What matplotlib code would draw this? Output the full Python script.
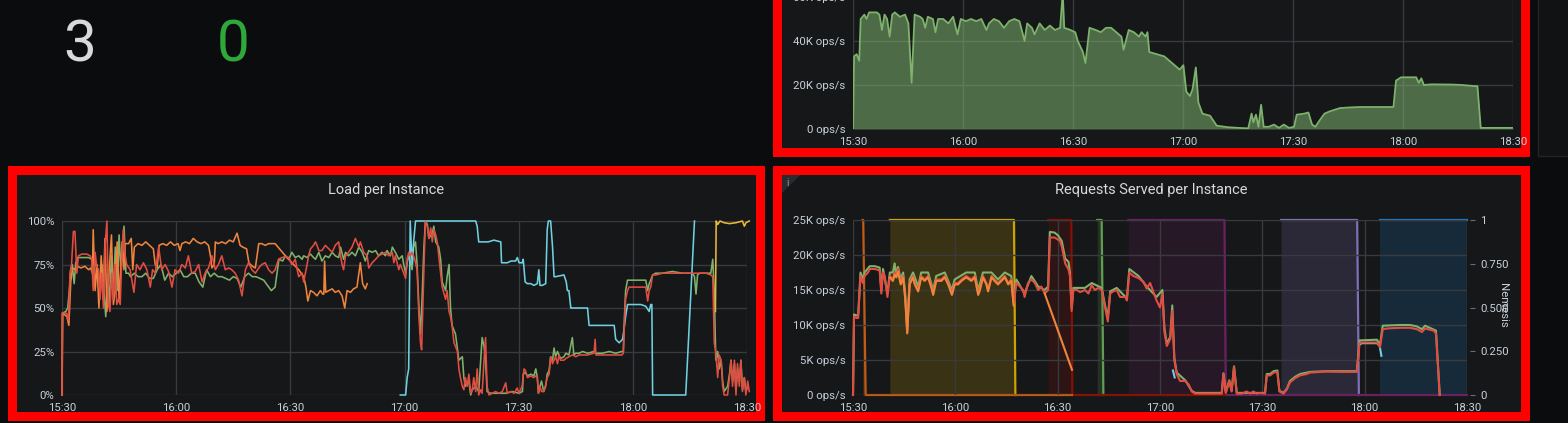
import numpy as np
import matplotlib.pyplot as plt
from matplotlib.patches import Rectangle, Polygon

plt.rcParams['font.family'] = ['Roboto', 'DejaVu Sans']

nan = float('nan')

# ---------------------------------------------------------------------
# data (x = minutes after 15:30)
# ---------------------------------------------------------------------
tick_minutes = [0, 30, 60, 90, 120, 150, 180]
tick_labels = ['15:30', '16:00', '16:30', '17:00', '17:30', '18:00', '18:30']

stat_values = ['3', '0']

# top panel: total ops/s (K)
total_ops = [
    (0, 0), (0.3, 33), (1.0, 34), (1.7, 31), (2.1, 50), (3.1, 52), (3.7, 50), (4.4, 53), (6.5, 53),
    (7.2, 52), (7.9, 45), (8.6, 52), (9.3, 50), (10.0, 42), (10.7, 52), (11.4, 53), (12.8, 51),
    (14.2, 52), (15.1, 48), (16.0, 21), (16.8, 52), (18.3, 51), (19.0, 50), (19.7, 46), (20.4, 51),
    (21.8, 50), (22.5, 44), (23.2, 50), (24.6, 50), (26.0, 48), (27.3, 51), (28.5, 43), (29.4, 50),
    (30.8, 49), (32.2, 50), (33.6, 49), (35.0, 50), (36.4, 45), (37.1, 48), (38.4, 50), (39.8, 49),
    (41.2, 46), (42.6, 49), (44.0, 50), (45.4, 49), (46.8, 40), (47.5, 48), (48.8, 46), (49.5, 43),
    (50.9, 48), (52.3, 45), (53.7, 47), (55.1, 45), (56.5, 46), (57.2, 62), (57.6, 46), (59.3, 45),
    (60.6, 44), (61.3, 40), (62.7, 35), (63.4, 30), (64.5, 46), (66.2, 45), (67.6, 44), (69.0, 46),
    (70.4, 46), (71.8, 44), (73.2, 42), (73.8, 36), (75.2, 45), (76.6, 44), (78.0, 42), (78.7, 44),
    (79.8, 42), (80.3, 44), (80.8, 35), (82.8, 34), (84.9, 33), (86.3, 31), (87.7, 29), (89.1, 27),
    (90.1, 29), (90.9, 17), (91.9, 15), (92.6, 18), (93.5, 28), (94.2, 12), (95.3, 7), (97.4, 6),
    (99.2, 1.5), (102.3, 0.8), (105.1, 0.5), (107.8, 0.3), (108.7, 7), (109.2, 3), (109.9, 6.5),
    (110.6, 1), (111.3, 11), (112.0, 1), (113.4, 1), (114.8, 2), (116.2, 0.5), (117.5, 2),
    (118.9, 0.5), (120.3, 1), (121.0, 6.5), (123.1, 7), (124.2, 7.5), (125.2, 2), (126.1, 1),
    (127.3, 4), (128.6, 7), (130.0, 8), (132.8, 9.5), (135.6, 9.8), (138.4, 10), (143.9, 10),
    (147.4, 10), (148.1, 22), (149.5, 23.5), (153.6, 23.5), (154.3, 21), (155.0, 23), (155.7, 20),
    (157.8, 20.3), (163.3, 20.2), (166.1, 20), (169.5, 19.5), (170.3, 19.5), (171.2, 0.5), (180, 0.5),
]

# load per instance (%)
load_green = [
    (0, 0), (0.1, 47), (1.0, 48), (1.5, 50), (2.0, 62), (2.3, 72), (2.7, 75), (3.2, 64), (3.6, 76),
    (4.2, 79), (5.5, 79), (7.0, 79), (7.8, 78), (8.3, 62), (8.7, 78), (9.4, 72), (10.0, 62), (10.5, 75),
    (11.0, 60), (11.5, 45), (12.0, 70), (12.4, 52), (13.0, 80), (13.5, 58), (14.0, 85), (14.5, 60),
    (15.0, 92), (15.5, 70), (16.3, 97), (16.8, 70), (17.5, 70), (18.0, 68), (19.0, 70), (20.0, 68),
    (21.0, 68), (22.0, 70), (23.0, 67), (24.0, 67), (25.0, 72), (26.0, 75), (27.0, 66), (28.0, 70),
    (29.0, 68), (30.0, 70), (31.0, 72), (32.0, 68), (33.0, 68), (34.0, 70), (35.0, 70), (36.0, 65),
    (37.0, 62), (38.0, 72), (39.0, 68), (40.0, 70), (41.0, 68), (42.0, 68), (43.0, 67), (44.0, 66),
    (45.0, 68), (46.0, 67), (47.0, 62), (48.0, 68), (49.0, 70), (50.0, 68), (51.0, 68), (52.0, 67),
    (53.0, 66), (54.0, 63), (55.0, 60), (56.0, 62), (57.0, 78), (58.0, 77), (58.7, 80), (59.6, 78),
    (60.4, 82), (61.3, 79), (62.2, 80), (63.1, 78), (63.5, 80), (64.4, 79), (64.8, 80), (65.3, 81),
    (66.1, 79), (66.6, 78), (67.5, 82), (68.3, 77), (69.2, 80), (70.1, 79), (71.0, 82), (71.8, 80),
    (72.7, 79), (73.2, 85), (74.0, 78), (74.5, 82), (75.3, 80), (76.2, 82), (77.1, 80), (78.0, 85),
    (78.9, 82), (79.7, 77), (80.6, 83), (81.5, 82), (82.4, 83), (83.2, 80), (84.1, 82), (85.0, 80),
    (85.4, 83), (86.3, 80), (86.8, 85), (87.6, 82), (88.5, 78), (89.4, 80), (89.8, 75), (90.3, 70),
    (90.7, 76), (91.1, 80), (92.0, 72), (92.4, 85), (92.9, 88), (93.3, 75), (93.8, 50), (94.2, 35),
    (94.6, 55), (95.1, 85), (95.5, 100), (96.0, 98), (96.4, 90), (97.3, 93), (97.7, 97), (98.2, 88),
    (99.0, 85), (99.5, 78), (99.9, 65), (100.8, 60), (101.2, 68), (101.7, 75), (102.1, 50), (102.5, 40),
    (103.4, 35), (104.3, 20), (105.2, 22), (105.6, 10), (106.0, 5), (106.9, 8), (107.4, 0), (107.8, 3),
    (108.7, 5), (109.5, 2), (110.4, 33), (110.9, 28), (111.3, 20), (111.7, 2), (112.6, 1), (114.8, 1),
    (116.6, 1), (118.3, 2), (120.1, 1), (121.0, 2), (121.2, 12), (121.7, 13), (122.3, 11), (123.2, 12),
    (124.0, 11), (124.5, 15), (124.9, 10), (125.2, 1), (125.6, 5), (126.0, 8), (126.6, 2), (127.1, 5),
    (127.5, 12), (128.0, 14), (128.4, 22), (128.9, 20), (129.3, 27), (129.7, 22), (130.2, 25),
    (130.6, 23), (131.0, 21), (131.9, 22), (132.4, 24), (133.2, 23), (134.1, 33), (134.5, 23),
    (135.0, 24), (135.9, 24), (136.8, 25), (138.1, 24), (139.8, 25), (140.3, 24), (142.0, 24),
    (143.8, 25), (145.5, 24), (147.1, 25), (147.5, 25), (147.8, 45), (148.1, 60), (148.6, 66),
    (150.0, 66), (152.1, 66), (153.4, 66), (153.9, 60), (154.3, 64), (154.7, 66), (155.2, 69),
    (156.0, 70), (157.8, 70), (160.4, 71), (163.0, 70), (165.7, 70), (166.2, 68), (166.6, 58),
    (167.0, 69), (167.5, 70), (169.2, 70), (170.5, 70), (171.0, 78), (171.4, 60), (171.8, 20),
    (172.3, 25), (172.7, 15), (173.2, 20), (173.6, 8), (174.0, 2), (174.9, 5), (175.4, 12), (175.8, 20),
    (176.2, 8), (176.7, 18), (177.1, 2), (177.5, 15), (178.0, 8), (178.4, 20), (178.8, 3), (179.3, 10),
    (179.7, 2), (180.2, 5),
]

load_orange = [
    (0, 0), (0.2, 47), (1.3, 45), (1.8, 40), (2.3, 65), (2.8, 73), (3.5, 72), (4.0, 74), (5.0, 73),
    (6.0, 74), (7.0, 72), (7.5, 73), (8.0, 70), (8.2, 95), (8.7, 60), (9.2, 75), (9.7, 50), (10.3, 80),
    (10.8, 55), (11.3, 90), (11.8, 48), (12.4, 72), (13.0, 92), (13.5, 52), (14.0, 60), (14.5, 88),
    (15.0, 55), (15.8, 88), (16.3, 72), (16.5, 87), (17.0, 87), (17.5, 87), (18.2, 90), (18.6, 72),
    (19.0, 85), (20.0, 87), (21.0, 86), (22.0, 88), (23.0, 86), (24.0, 84), (24.5, 75), (25.0, 73),
    (25.5, 86), (26.5, 87), (27.5, 86), (28.5, 88), (29.5, 86), (30.5, 87), (31.0, 83), (31.5, 87),
    (32.5, 88), (33.5, 87), (34.5, 90), (35.5, 88), (36.5, 87), (37.5, 88), (38.5, 86), (39.0, 80),
    (39.4, 73), (40.0, 75), (40.3, 88), (41.0, 87), (42.0, 88), (43.0, 87), (44.0, 89), (45.0, 88),
    (46.0, 93), (46.8, 86), (47.5, 85), (48.5, 84), (49.1, 76), (50.0, 74), (50.8, 73), (51.7, 87),
    (52.5, 87), (53.4, 86), (54.3, 87), (55.2, 87), (56.0, 87), (58.7, 80), (60.4, 76), (62.2, 72),
    (63.5, 68), (64.1, 62), (64.6, 54), (65.3, 60), (66.1, 59), (67.0, 57), (67.9, 60), (68.5, 58),
    (68.8, 58), (69.0, 77), (69.3, 59), (70.1, 60), (71.0, 61), (71.8, 59), (72.7, 60), (73.6, 57),
    (74.3, 50), (74.9, 60), (75.8, 59), (76.6, 61), (77.5, 62), (78.4, 76), (79.0, 64), (79.7, 61),
    (80.2, 64),
]

load_red = [
    (0, 0), (0.05, 47), (1.2, 47), (1.7, 43), (2.1, 70), (2.5, 75), (3.0, 94), (3.4, 94), (3.9, 70),
    (4.3, 80), (5.2, 81), (6.5, 81), (7.4, 80), (7.8, 78), (8.2, 60), (8.7, 82), (9.1, 74), (9.6, 72),
    (10.0, 55), (10.4, 70), (10.9, 50), (11.3, 85), (11.8, 100), (12.2, 52), (12.6, 48), (13.1, 70),
    (13.5, 55), (13.9, 75), (14.4, 52), (14.8, 55), (15.3, 52), (15.7, 78), (16.1, 95), (16.6, 80),
    (17.0, 75), (17.9, 72), (18.9, 59), (19.6, 75), (20.5, 72), (21.4, 76), (22.3, 72), (23.2, 62),
    (23.8, 72), (24.5, 70), (25.4, 85), (26.2, 72), (27.1, 75), (28.0, 71), (28.9, 62), (29.7, 72),
    (30.6, 70), (31.5, 75), (32.4, 73), (33.2, 80), (34.1, 70), (35.0, 71), (35.9, 75), (36.8, 65),
    (37.6, 70), (38.5, 73), (39.4, 80), (40.3, 72), (41.1, 75), (42.0, 80), (42.9, 72), (43.8, 73),
    (44.6, 72), (45.5, 70), (46.4, 66), (47.3, 57), (48.2, 72), (49.0, 76), (49.9, 72), (50.8, 70),
    (51.7, 73), (52.5, 75), (53.4, 76), (54.3, 72), (55.2, 70), (56.0, 72), (56.9, 78), (57.8, 79),
    (58.7, 79.5), (59.6, 79), (60.4, 75), (61.3, 78), (61.8, 72), (62.2, 68), (63.1, 70), (63.5, 65),
    (64.4, 75), (64.8, 80), (65.3, 84), (66.1, 86), (66.6, 88), (67.0, 86), (67.5, 83), (68.3, 83),
    (69.2, 86), (70.1, 84), (71.0, 82), (71.8, 86), (72.7, 88), (73.2, 80), (73.6, 75), (74.0, 72),
    (74.5, 80), (75.3, 82), (76.2, 85), (77.1, 90), (78.0, 85), (78.4, 88), (79.3, 82), (80.2, 80),
    (80.6, 73), (81.5, 76), (82.4, 78), (83.2, 80), (84.1, 81), (85.0, 82), (85.9, 80), (86.8, 82),
    (87.2, 76), (87.6, 80), (88.5, 72), (88.9, 75), (89.8, 70), (90.3, 67), (90.7, 78), (91.1, 82),
    (91.5, 80), (92.0, 82), (92.7, 78), (93.3, 72), (93.8, 45), (94.2, 30), (94.5, 26), (94.8, 50),
    (95.2, 80), (95.5, 100), (96.0, 97), (96.4, 90), (96.9, 96), (97.3, 88), (97.7, 95), (98.2, 92),
    (98.6, 88), (99.0, 80), (99.5, 70), (99.9, 62), (100.4, 58), (100.8, 55), (101.2, 60), (101.7, 48),
    (102.1, 45), (102.5, 40), (103.0, 30), (103.4, 28), (103.9, 25), (104.3, 15), (104.7, 10),
    (105.2, 5), (105.6, 3), (106.0, 10), (106.5, 5), (106.9, 12), (107.4, 1), (107.8, 3), (108.2, 10),
    (108.7, 2), (109.1, 15), (109.5, 0), (110.0, 3), (110.4, 1), (110.9, 20), (111.3, 33), (111.7, 5),
    (112.2, 0), (113.1, 1), (113.9, 2), (114.8, 1), (115.7, 2), (116.6, 7), (117.0, 1), (117.9, 2),
    (118.8, 1), (119.6, 4), (120.1, 1), (120.9, 5), (121.4, 15), (121.8, 14), (122.3, 10), (123.2, 11),
    (124.0, 10), (124.5, 11), (124.9, 10), (125.2, 1), (125.6, 5), (126.0, 2), (126.6, 2), (127.1, 6),
    (127.5, 10), (128.0, 12), (128.4, 22), (128.9, 18), (129.3, 20), (129.7, 22), (130.2, 18),
    (130.6, 23), (131.0, 20), (131.9, 20), (132.4, 21), (133.2, 22), (134.1, 23), (135.0, 22),
    (135.9, 23), (136.8, 23), (138.1, 23), (139.8, 24), (140.1, 32), (140.3, 23), (142.0, 23),
    (143.8, 23), (145.5, 23), (146.4, 23), (147.1, 23), (147.5, 24), (147.8, 42), (148.1, 55),
    (148.6, 60), (149.0, 62), (150.8, 62), (152.1, 62), (153.4, 62), (153.9, 54), (154.3, 60),
    (154.7, 62), (155.2, 69), (156.0, 69), (157.8, 70), (160.4, 70), (163.0, 70), (165.7, 70),
    (167.5, 70), (169.2, 70), (170.5, 69), (171.0, 68), (171.4, 30), (171.8, 25), (172.3, 10),
    (172.7, 23), (173.2, 20), (173.6, 5), (174.0, 0), (174.9, 0), (175.4, 10), (175.8, 20), (176.2, 5),
    (176.7, 20), (177.1, 0), (177.5, 18), (178.0, 5), (178.4, 20), (178.8, 2), (179.3, 10), (179.7, 0),
    (180.2, 8), (180.6, 2),
]

load_cyan = [
    (88.9, 0), (90.3, 0), (90.7, 10), (91.1, 15), (91.5, 100), (92.0, 75), (92.4, 88), (92.9, 100),
    (108.7, 100), (109.1, 97), (109.5, 88), (112.0, 88), (113.5, 89), (115.3, 88), (115.5, 76),
    (117.0, 76), (118.0, 77), (119.2, 77), (119.65, 79), (120.1, 76), (120.96, 76), (121.2, 78),
    (121.7, 65), (122.3, 64), (123.2, 64), (124.0, 63), (124.9, 64), (125.3, 72), (125.6, 63),
    (126.2, 63), (127.1, 64), (127.5, 95), (127.8, 100), (128.4, 100), (128.9, 85), (129.3, 68),
    (129.7, 68), (131.9, 69), (132.5, 65), (132.8, 60), (133.2, 60), (133.7, 50), (133.9, 50),
    (138.1, 50), (138.5, 40), (145.1, 40), (145.5, 32), (146.4, 30), (147.3, 32), (147.7, 38),
    (148.1, 45), (148.6, 52), (149.5, 52), (150.8, 52), (152.1, 52), (153.4, 51), (154.3, 48),
    (154.7, 52), (155.0, 52), (155.2, 0), (163.9, 0), (166.2, 100),
]

load_yellow = [
    (171.7, 48), (171.9, 100), (172.3, 98), (172.9, 100), (174.0, 99), (175.4, 98.5), (177.1, 99),
    (178.8, 100), (179.3, 97), (179.7, 99), (180.6, 100),
]

# requests served per instance (K ops/s)
req_red = [
    (0, 0), (0.3, 11.2), (1.0, 11), (1.5, 11), (2.2, 17), (2.9, 16), (3.4, 17), (4.4, 17.5), (4.9, 18),
    (6.4, 18), (7.8, 17.8), (8.3, 14.5), (8.8, 17.5), (9.3, 17), (10.1, 14), (10.8, 17), (11.7, 16.5),
    (12.2, 17.5), (12.7, 17), (13.2, 18), (14.0, 16), (14.7, 17), (15.3, 14), (15.9, 9), (16.6, 16),
    (17.6, 17), (18.1, 16), (19.1, 15), (20.0, 17), (21.0, 16.5), (22.0, 17), (23.0, 15.5),
    (23.5, 14.5), (24.4, 16.5), (25.9, 16.5), (26.9, 17), (27.9, 16), (29.0, 14.5), (29.8, 16),
    (30.8, 16), (31.8, 16.5), (33.2, 17), (34.7, 16.5), (35.7, 17), (36.7, 14.5), (37.1, 15),
    (38.1, 17), (39.1, 16), (39.6, 15), (40.6, 17), (41.5, 16.5), (42.5, 16), (43.5, 16.5), (44.5, 17),
    (45.5, 16), (46.4, 16.5), (47.1, 13), (47.9, 16), (48.9, 15.5), (49.9, 15), (50.3, 14), (51.3, 16),
    (52.3, 16.5), (53.3, 16), (54.3, 15), (55.2, 15.5), (56.2, 14.5), (57.2, 15), (57.7, 22.5),
    (59.1, 22.5), (60.1, 22.2), (60.7, 22), (61.2, 21.2), (62.2, 18.8), (63.2, 17.9), (63.6, 17),
    (64.1, 12), (64.6, 15), (65.6, 15), (66.6, 14.7), (68.0, 15), (69.0, 14.5), (70.0, 15.7),
    (70.9, 15), (71.9, 15.3), (72.9, 15), (73.9, 12.5), (74.7, 10.5), (75.4, 14.5), (76.3, 14.8),
    (77.3, 15), (78.3, 14), (79.8, 14), (80.3, 13.5), (81.0, 17.5), (82.2, 17), (83.7, 16.7),
    (85.1, 16.2), (86.1, 15.2), (87.1, 16), (88.1, 14.7), (89.0, 13.5), (90.0, 12.5), (90.7, 14.5),
    (91.3, 9), (92.0, 7), (93.0, 8), (93.6, 12), (94.2, 5), (94.9, 3), (95.9, 2), (97.4, 2),
    (98.4, 1.5), (99.3, 0.5), (100.3, 0.2), (108.1, 0.2), (108.6, 3), (109.3, 0.3), (110.3, 2),
    (111.0, 0.5), (111.7, 4), (112.5, 0.2), (114.0, 0.2), (115.4, 0.5), (116.4, 0.2), (117.4, 0.5),
    (118.3, 0.2), (119.3, 0.3), (120.8, 0.2), (121.3, 2.8), (122.3, 2.8), (123.3, 3.2), (124.4, 3.3),
    (125.0, 0.5), (126.2, 0.2), (127.2, 0.8), (128.1, 1.8), (129.6, 2.4), (131.1, 2.8), (133.0, 3.0),
    (134.0, 3.2), (138.9, 3.35), (143.8, 3.3), (147.7, 3.3), (148.5, 7.4), (149.2, 7.5), (153.6, 7.5),
    (154.0, 7.3), (154.5, 6.8), (155.3, 9.4), (156.5, 9.5), (160.4, 9.6), (163.3, 9.6), (165.3, 9.4),
    (166.8, 9.0), (167.7, 9.5), (170.2, 9.2), (170.9, 8.8), (172.0, 0),
]

req_green = [
    (0, 0), (0.3, 11.5), (1.5, 11.3), (2.2, 17.5), (2.9, 16.5), (3.4, 17.5), (4.9, 18.4), (6.4, 18.4),
    (7.8, 18.2), (8.3, 15), (8.8, 18), (10.1, 14.5), (10.8, 17.5), (11.7, 17.5), (12.2, 18.8),
    (12.7, 17.2), (13.2, 18.3), (14.0, 16.5), (14.7, 17.5), (15.3, 14.5), (15.9, 9.5), (16.6, 16.5),
    (17.6, 17.5), (19.1, 15.5), (20.0, 17.5), (22.0, 17.5), (23.5, 15), (24.4, 17), (26.9, 17.5),
    (29.0, 15), (29.8, 16.5), (33.2, 17.5), (35.7, 17.5), (36.7, 15), (38.1, 17.5), (40.6, 17.5),
    (42.5, 16.5), (44.5, 17.5), (46.4, 17), (47.1, 13.5), (47.9, 16.5), (50.3, 14.5), (52.3, 17),
    (54.3, 15.5), (56.2, 15), (57.2, 15.5), (57.7, 23.3), (59.1, 23.2), (60.1, 22.8), (61.2, 22),
    (62.2, 19.5), (63.2, 19), (63.6, 17.5), (64.1, 12.5), (64.6, 15.3), (68.0, 15.3), (70.0, 16),
    (72.9, 15.3), (73.9, 12.8), (74.7, 11), (75.4, 14.8), (77.3, 15.3), (80.3, 13.8), (81.0, 18),
    (83.7, 17), (86.1, 15.5), (89.0, 14), (90.7, 15), (91.3, 9.5), (92.0, 7.3), (93.0, 8.3),
    (93.6, 12.8), (94.2, 5.3), (94.9, 3.2), (97.4, 2.1), (99.3, 0.6), (100.3, 0.3), (108.1, 0.3),
    (108.6, 3.1), (109.3, 0.4), (110.3, 2.1), (111.0, 0.6), (111.7, 4.1), (112.5, 0.3), (114.0, 0.3),
    (116.4, 0.3), (118.3, 0.3), (120.8, 0.3), (121.3, 3.0), (122.3, 3.0), (123.3, 3.4), (124.4, 3.5),
    (125.0, 0.6), (126.2, 0.3), (127.2, 0.9), (128.1, 2.0), (129.6, 2.6), (131.1, 3.0), (134.0, 3.3),
    (138.9, 3.4), (147.7, 3.4), (148.5, 7.8), (153.6, 7.9), (154.5, 7.2), (155.3, 9.9), (160.4, 10.0),
    (163.3, 10.0), (165.3, 9.8), (166.8, 9.4), (167.7, 9.9), (170.9, 9.2), (172.0, 0),
]

req_orange = [
    (10.8, 16.8), (11.7, 16.3), (12.2, 17.2), (12.7, 16.8), (13.2, 17.6), (14.0, 15.8), (14.7, 16.8),
    (15.3, 13.8), (15.9, 8.8), (16.6, 15.8), (17.6, 16.8), (18.1, 15.8), (19.1, 14.8), (20.0, 16.8),
    (21.0, 16.3), (22.0, 16.8), (23.0, 15.3), (23.5, 14.3), (24.4, 16.3), (25.9, 16.3), (26.9, 16.8),
    (27.9, 15.8), (29.0, 14.3), (29.8, 15.8), (30.8, 15.8), (31.8, 16.3), (33.2, 16.8), (34.7, 16.3),
    (35.7, 16.8), (36.7, 14.3), (37.1, 14.8), (38.1, 16.8), (39.1, 15.8), (39.6, 14.8), (40.6, 16.8),
    (41.5, 16.3), (42.5, 15.8), (43.5, 16.3), (44.5, 16.8), (45.5, 15.8), (46.4, 16.3), (47.1, 12.8),
    (nan, nan), (56.2, 14.5), (64.2, 3.6),
]

req_cyan = [
    (93.8, 3.5), (94.3, 2.5), (nan, nan),
    (148.4, 7.2), (149.2, 7.4), (153.6, 7.4), (154.4, 7.0), (154.9, 5.6),
]

# nemesis activity (0/1, right axis)
nem_yellow = [(10.8, 1), (47.2, 1), (47.6, 0)]
nem_green = [(71.6, 1), (72.9, 1), (73.4, 0)]
nem_violet = [(125.5, 1), (147.8, 1), (148.3, 0)]
nem_blue = [(154.5, 1), (180, 1)]
nem_purple = [(80.7, 1), (108.9, 1), (109.3, 0), (180, 0)]
nem_darkred = [(57.2, 1), (64.0, 1), (64.3, 0), (109.1, 0)]
nem_orange = [(2.8, 1), (3.0, 1), (3.7, 0), (64.2, 0)]

# ---------------------------------------------------------------------
W, H = 1568, 423
fig = plt.figure(figsize=(W / 100, H / 100), dpi=100)
fig.patch.set_facecolor('#0b0c0e')

TXT = '#c7d0d9'
GRID = '#393a3e'
PANEL = '#161719'


def px_axes(x0, y0, x1, y1):
    return fig.add_axes([x0 / W, 1 - y1 / H, (x1 - x0) / W, (y1 - y0) / H])


def xy(pairs):
    arr = np.array(pairs, dtype=float)
    return arr[:, 0], arr[:, 1]


def style(ax, yticks, ylabels):
    ax.set_facecolor('none')
    for s in ax.spines.values():
        s.set_visible(False)
    ax.set_xlim(0, 180)
    ax.set_xticks(tick_minutes)
    ax.set_xticklabels(tick_labels)
    ax.set_yticks(yticks)
    ax.set_yticklabels(ylabels)
    ax.tick_params(length=0, colors=TXT, labelsize=8.2)
    ax.tick_params(axis='x', pad=6)
    ax.tick_params(axis='y', pad=5.5)
    ax.grid(True, color=GRID, lw=1)
    ax.set_axisbelow(True)


bg = px_axes(0, 0, W, H)
bg.set_xlim(0, W)
bg.set_ylim(H, 0)
bg.axis('off')


def frame(x0, y0, x1, y1):
    bg.add_patch(Rectangle((x0, y0), x1 - x0, y1 - y0, fc='#ff0000', ec='none'))
    bg.add_patch(Rectangle((x0 + 9, y0 + 9), x1 - x0 - 18, y1 - y0 - 18, fc=PANEL, ec='none'))


frame(773, -20, 1530, 157)
frame(8, 166, 765, 421)
frame(773, 166, 1530, 421)
bg.add_patch(Rectangle((1538, -10), 40, 166, fc='#111214', ec='#232428', lw=1))

# single stats
bg.text(80, 61, stat_values[0], fontsize=42, color='#d8d9da', ha='center', va='baseline')
bg.text(233, 61, stat_values[1], fontsize=42, color='#2fa83a', ha='center', va='baseline')

# titles
bg.text(386, 194, 'Load per Instance', fontsize=10.5, color='#d8d9da', ha='center', va='baseline')
bg.text(1151, 194, 'Requests Served per Instance', fontsize=10.5, color='#d8d9da',
        ha='center', va='baseline')
bg.add_patch(Polygon([(782, 175), (800, 175), (782, 193)], closed=True, fc='#2a2b2f', ec='none'))
bg.text(788, 183, 'i', fontsize=7, color='#9a9b9e', ha='center', va='center')
bg.text(1503, 305, 'Nemesis', fontsize=8.2, color=TXT, rotation=270, ha='center', va='center')

# ---------------------------------------------------------------------
# top panel: total ops
ax_top = px_axes(853, -3, 1513, 129)
style(ax_top, [0, 20, 40, 60], ['0 ops/s', '20K ops/s', '40K ops/s', '60K ops/s'])
ax_top.set_ylim(0, 60)
t, v = xy(total_ops)
ax_top.fill_between(t, v, 0, color='#7eb26d', alpha=0.55, lw=0)
ax_top.plot(t, v, color='#7eb26d', lw=1.3)

# ---------------------------------------------------------------------
# load per instance
ax_load = px_axes(62, 221, 747, 395)
style(ax_load, [0, 25, 50, 75, 100], ['0%', '25%', '50%', '75%', '100%'])
ax_load.set_ylim(0, 100)
for data, col in [(load_green, '#7eb26d'), (load_yellow, '#eab839'), (load_cyan, '#6ed0e0'),
                  (load_orange, '#ef843c'), (load_red, '#e24d42')]:
    t, v = xy(data)
    ax_load.plot(t, v, color=col, lw=1.15, clip_on=False)

# ---------------------------------------------------------------------
# requests served per instance
ax_req = px_axes(853, 220, 1467, 395)
style(ax_req, [0, 5, 10, 15, 20, 25],
      ['0 ops/s', '5K ops/s', '10K ops/s', '15K ops/s', '20K ops/s', '25K ops/s'])
ax_req.set_ylim(0, 25)

ax_nem = ax_req.twinx()
ax_nem.set_ylim(0, 1)
ax_nem.set_xlim(0, 180)
for s in ax_nem.spines.values():
    s.set_visible(False)
ax_nem.spines['right'].set_position(('outward', 2.2))
ax_nem.set_yticks([0, 0.25, 0.5, 0.75, 1])
ax_nem.set_yticklabels(['0', '0.250', '0.500', '0.750', '1'])
ax_nem.tick_params(axis='y', length=3.6, width=0.8, color='#6b6c70', labelcolor=TXT,
                   labelsize=8.2, pad=3.6)
ax_req.set_zorder(ax_nem.get_zorder() + 1)

for data, col in [(nem_yellow, '#cca300'), (nem_green, '#629e51'), (nem_violet, '#806eb7'),
                  (nem_blue, '#1f78c1'), (nem_purple, '#6d1f62'), (nem_darkred, '#890f02'),
                  (nem_orange, '#c15c17')]:
    t, v = xy(data)
    ax_nem.fill_between(t, v, 0, color=col, alpha=0.2, lw=0)
    ax_nem.plot(t, v, color=col, lw=1.6, clip_on=False)

for data, col in [(req_green, '#7eb26d'), (req_cyan, '#6ed0e0'), (req_red, '#e24d42'),
                  (req_orange, '#ef843c')]:
    t, v = xy(data)
    ax_req.plot(t, v, color=col, lw=1.5, clip_on=False)

fig.savefig('out.png', dpi=100, facecolor=fig.get_facecolor())
